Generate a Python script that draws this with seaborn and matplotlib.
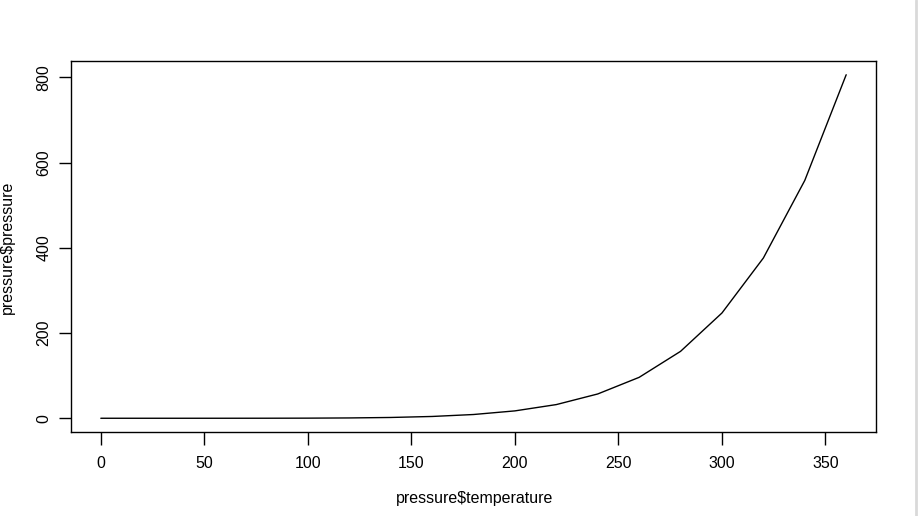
import matplotlib
matplotlib.use("Agg")
import matplotlib.pyplot as plt
import pandas as pd
import seaborn as sns

# R "pressure" dataset
temperature = [0, 20, 40, 60, 80, 100, 120, 140, 160, 180,
               200, 220, 240, 260, 280, 300, 320, 340, 360]
pressure = [0.0002, 0.0012, 0.0060, 0.0300, 0.0900, 0.2700, 0.7500,
            1.8500, 4.2000, 8.8000, 17.3000, 32.1000, 57.0000, 96.0000,
            157.0000, 247.0000, 376.0000, 558.0000, 806.0000]
x_ticks = [0, 50, 100, 150, 200, 250, 300, 350]
y_ticks = [0, 200, 400, 600, 800]

df = pd.DataFrame({"temperature": temperature, "pressure": pressure})

sns.set_theme(style="white")
plt.rcParams['font.family'] = ['Liberation Sans', 'DejaVu Sans']

W, H = 918, 516
fig = plt.figure(figsize=(W / 100, H / 100), dpi=100)
ax = fig.add_axes([71 / W, (H - 432) / H, (876 - 71) / W, (432 - 61) / H])

sns.lineplot(data=df, x="temperature", y="pressure", color="black",
             linewidth=1.0, ax=ax)

# R style 4% axis extension
xr = max(temperature) - min(temperature)
yr = max(pressure) - min(pressure)
ax.set_xlim(min(temperature) - 0.04 * xr, max(temperature) + 0.04 * xr)
ax.set_ylim(min(pressure) - 0.04 * yr, max(pressure) + 0.04 * yr)

ax.set_xticks(x_ticks)
ax.set_yticks(y_ticks)
ax.tick_params(axis="both", direction="out", length=9, width=1.0,
               color="black", labelsize=11.5, labelcolor="black",
               bottom=True, left=True, pad=5)
ax.tick_params(axis="x", pad=8)
for lab in ax.get_yticklabels():
    lab.set_rotation(90)
    lab.set_va("center")

for s in ax.spines.values():
    s.set_color("black")
    s.set_linewidth(1.0)
    s.set_visible(True)

ax.set_xlabel("")
ax.set_ylabel("")
fig.text(475 / W, 1 - 499 / H, "pressure$temperature", ha="center",
         va="center", fontsize=11.5, color="black")
fig.text(7 / W, 1 - 247 / H, "pressure$pressure", ha="center",
         va="center", rotation=90, fontsize=11.5, color="black")

# thin grey edge of the window seen on the right
fig.add_artist(plt.Line2D([915.5 / W, 915.5 / W], [0, 1],
                          transform=fig.transFigure, color="#d9d9d9",
                          linewidth=2))

fig.savefig("out.png", dpi=100, facecolor="white")
